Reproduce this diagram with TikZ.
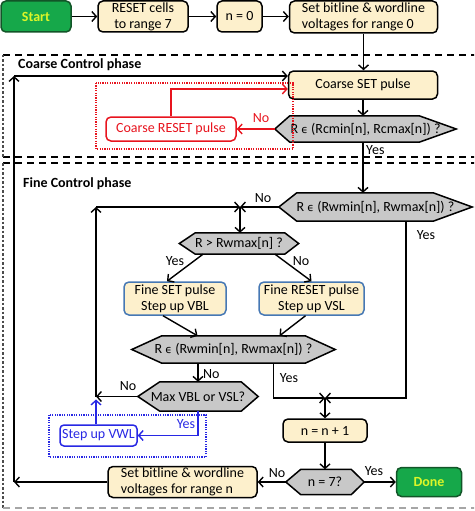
\documentclass[tikz,border=0pt]{standalone}
\usepackage{fontspec}
\setmainfont{Carlito}
\newfontfamily\symf{DejaVu Sans}
\usetikzlibrary{arrows.meta,calc}
\pgfdeclarelayer{bg}
\pgfsetlayers{bg,main}
\definecolor{cream}{RGB}{253,240,204}
\definecolor{hexgray}{RGB}{200,200,200}
\definecolor{gfill}{RGB}{22,168,74}
\definecolor{gdraw}{RGB}{18,85,40}
\definecolor{gtext}{RGB}{220,246,40}
\definecolor{rline}{RGB}{232,20,30}
\definecolor{bline}{RGB}{40,40,228}
\definecolor{sblue}{RGB}{70,120,180}
\newcommand\ep{{\symf\fontsize{11}{13}\selectfont ϵ}}
\newcommand\hexn[8]{%
  \node[hexnode, minimum width=#4, minimum height=#5] (#1) at (#2,#3) {#8};
  \begin{pgfonlayer}{bg}
  \path[hexfill] (#1.west) -- ([xshift=#6]#1.north west) -- ([xshift=-#7]#1.north east) -- (#1.east) -- ([xshift=-#7]#1.south east) -- ([xshift=#6]#1.south west) -- cycle;
  \end{pgfonlayer}}
\tikzset{
  box/.style={draw=black, line width=1.5pt, rounded corners=5pt, fill=cream, inner sep=0pt, align=center},
  finebox/.style={box, draw=sblue},
  redbox/.style={box, draw=rline, fill=white, text=rline},
  bluebox/.style={box, draw=bline, fill=white, text=bline, rounded corners=4pt},
  greenbox/.style={box, draw=gdraw, fill=gfill, text=gtext, font=\fontsize{14}{16}\selectfont\bfseries},
  hexnode/.style={inner sep=0pt},
  hexfill/.style={draw=black, line width=1.5pt, fill=hexgray},
  arr/.style={line width=1.4pt, -{Straight Barb[length=4.5pt,width=10pt,line width=1.4pt]}},
  arrred/.style={arr, draw=rline},
  arrblue/.style={arr, draw=bline},
  lbl/.style={inner sep=0pt},
  regline/.style={line width=1.2pt, dash pattern=on 7pt off 5pt},
  regleft/.style={line width=2pt, draw=black!70, dash pattern=on 2.5pt off 2pt},
  dotbox/.style={line width=1.2pt, dash pattern=on 1.2pt off 1.2pt},
}
\begin{document}
\begin{tikzpicture}[x=1pt, y=-1pt, font=\fontsize{14}{16}\selectfont]
\useasboundingbox (0,0) rectangle (474,511);
\clip (0,0) rectangle (474,511);
% region frames
\draw[regline] (3,55) -- (480,55);
\draw[regline] (3,157) -- (480,157);
\draw[regleft] (3,55) -- (3,157);
\draw[regline] (3,163) -- (480,163);
\draw[regleft] (3,163) -- (3,508);
\draw[regline, draw=black!35, line width=1.6pt] (3,508) -- (480,508);
\node[lbl, anchor=west, font=\fontsize{14}{16}\selectfont\bfseries] (coarselbl) at (18,65) {Coarse Control phase};
\node[lbl, anchor=west, font=\fontsize{14}{16}\selectfont\bfseries] (finelbl) at (23,184) {Fine Control phase};
% top row
\node[greenbox, minimum width=70, minimum height=31] (start) at (36,16.5) {Start};
\node[box, minimum width=90, minimum height=31] (reset) at (143,16.5) {RESET cells\\to range 7};
\node[box, minimum width=45, minimum height=31] (n0) at (239.5,16.5) {n = 0};
\node[box, minimum width=148, minimum height=32, align=left] (setbl0) at (363.5,17) {Set bitline \& wordline\\voltages for range 0};
% coarse
\node[box, minimum width=149, minimum height=28] (cset) at (363,85) {Coarse SET pulse};
\hexn{chex}{365.5}{129}{181}{26}{15}{37}{R \ep{} (Rcmin[n], Rcmax[n]) ?}
\node[redbox, minimum width=130, minimum height=24] (creset) at (171,129) {Coarse RESET pulse};
\draw[dotbox, rline] (96,83) rectangle (293,149);
% fine
\hexn{fhex}{375.5}{207}{193}{28}{18}{39}{R \ep{} (Rwmin[n], Rwmax[n]) ?}
\hexn{rhex}{239}{243.5}{119}{21}{16}{14}{R > Rwmax[n] ?}
\node[finebox, minimum width=102, minimum height=33] (fset) at (175,298.5) {Fine SET pulse\\Step up VBL};
\node[finebox, minimum width=105, minimum height=33] (freset) at (311.5,298.5) {Fine RESET pulse\\Step up VSL};
\hexn{hexc}{233.5}{349.5}{203}{27}{30}{30}{R \ep{} (Rwmin[n], Rwmax[n]) ?}
\hexn{mhex}{198}{396.5}{120}{29}{22}{17}{Max VBL or VSL?}
\node[bluebox, minimum width=77, minimum height=21] (vwl) at (98.5,435.5) {Step up VWL};
\draw[dotbox, bline] (49,415) rectangle (206,457);
\node[box, minimum width=84, minimum height=23] (nn1) at (325,430.5) {n = n + 1};
\hexn{nhex}{325}{482}{78}{25}{15}{13}{n = 7?}
\node[greenbox, minimum width=65, minimum height=29] (done) at (429,482) {Done};
\node[box, minimum width=149, minimum height=31, align=left] (setbln) at (182.5,482) {Set bitline \& wordline\\voltages for range n};
% coordinates
\coordinate (j1) at (240,207);
\coordinate (j2) at (325,398);
\coordinate (l1) at (96,396.5);
\coordinate (l2) at (96,207);
\coordinate (l3) at (14,482);
\coordinate (l4) at (14,76);
% connectors
\draw[arr] (start) -- (reset);
\draw[arr] (reset) -- (n0);
\draw[arr] (n0.east) -- (n0.east -| setbl0.west);
\draw[arr] (setbl0.south) -- (setbl0.south |- cset.north);
\draw[arr] (cset.south) -- (cset.south |- chex.north);
\draw[arr] (cset.south |- chex.south) -- (cset.south |- fhex.north);
\node[lbl, anchor=west] (yes1) at (366,150) {Yes};
\draw[arrred] (chex.west) -- (creset.east);
\node[lbl, text=rline] (no1) at (261,118) {No};
\draw[arrred] (creset.north) |- ([yshift=-4]cset.west);
\draw[arr] (fhex.west) -- (j1);
\node[lbl] (no2) at (263,198) {No};
\draw[arr] (j1) -- (j1 |- rhex.north);
\draw[arr] ([xshift=-36]rhex.south) -- ([xshift=-8]fset.north);
\node[lbl] (yes2) at (175,261) {Yes};
\draw[arr] ([xshift=36]rhex.south) -- (freset.north);
\node[lbl] (no3) at (301,261) {No};
\draw[arr] ([xshift=-12]fset.south) -- ([xshift=-36]hexc.north);
\draw[arr] ([xshift=-6]freset.south) -- ([xshift=46]hexc.north);
\draw[arr] (mhex.north |- hexc.south) -- (mhex.north);
\node[lbl, anchor=west] (no4) at (203,374) {No};
\draw[arr] ([xshift=40]hexc.south) |- (j2);
\node[lbl] (yes3) at (289,378) {Yes};
\draw[arr] ([xshift=30.5]fhex.south) |- (j2);
\node[lbl] (yes4) at (426,235) {Yes};
\draw[arr] (j2) -- (nn1.north);
\draw[arr] (nn1) -- (nhex);
\draw[arr] (nhex.west) -- (setbln.east);
\node[lbl] (no5) at (277,473) {No};
\draw[arr] (nhex.east) -- (done.west);
\node[lbl] (yes5) at (374,471) {Yes};
\draw[arr] (setbln.west) -- (l3);
\draw[arr] (l3) -- (l4);
\draw[arr] (l4) -- (l4 -| cset.west);
\draw[arr] (mhex.west) -- (l1);
\node[lbl] (no6) at (128,386) {No};
\draw[arr] (l1) -- (l2);
\draw[arr] (l2) -- (j1);
\draw[arrblue] (mhex.south) |- (vwl.east);
\node[lbl, text=bline] (yes6) at (186,424) {Yes};
\draw[arrblue] (vwl.north -| l1) -- ([yshift=-3]l1);
\end{tikzpicture}
\end{document}
